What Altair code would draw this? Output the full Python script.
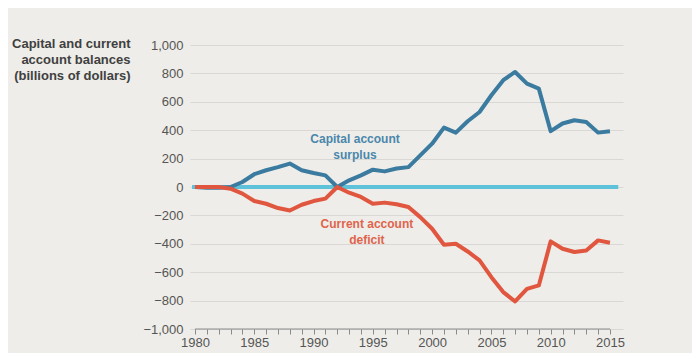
import altair as alt
import pandas as pd

years = list(range(1980, 2016))
capital = [0, -5, -5, 0, 35, 90, 118, 140, 165, 118, 99, 82, 0, 47, 82, 122,
           110, 130, 140, 223, 305, 418, 383, 463, 528, 646, 752, 810, 728, 693,
           393, 447, 470, 458, 383, 393]
current = [0, 0, 0, -12, -47, -99, -118, -148, -165, -125, -99, -82, 0, -40, -70, -118,
           -110, -122, -141, -212, -294, -407, -400, -454, -517, -635, -740, -806, -717, -693,
           -383, -435, -458, -447, -376, -393]

y_ticks = [-1000, -800, -600, -400, -200, 0, 200, 400, 600, 800, 1000]

BLUE = "#3b7b9f"
RED = "#e0563f"
CYAN = "#5ec3da"

df = pd.DataFrame({
    "year": years * 2,
    "value": capital + current,
    "series": ["Capital account surplus"] * len(years) + ["Current account deficit"] * len(years),
})

x_scale = alt.Scale(domain=[1979.58, 2016.1], nice=False, zero=False)
y_scale = alt.Scale(domain=[-1000, 1000], nice=False)

x_axis = alt.Axis(
    values=years, title=None, grid=False, domain=False,
    labelExpr="datum.value % 5 == 0 ? datum.value : ''",
    tickSize=5, tickColor="#8a8a8a", tickWidth=1, labelOverlap=False,
    labelFont="Liberation Sans", labelFontSize=13, labelColor="#555555",
    labelPadding=2, labelFlush=False,
)
y_axis = alt.Axis(
    values=y_ticks, format=",.0f", ticks=False, domain=False, labelOverlap=False,
    grid=True, gridColor="#d9d8d4", gridWidth=1, labelFlush=False,
    labelFont="Liberation Sans", labelFontSize=13, labelColor="#555555",
    labelPadding=7,
    title=["Capital and current", "account balances", "(billions of dollars)"],
    titleAngle=0, titleAlign="right", titleBaseline="top",
    titleX=-60, titleY=-8, titleFont="Liberation Sans", titleFontSize=13,
    titleFontWeight="bold", titleColor="#404040", titleLineHeight=16,
)


def X(field):
    return alt.X(field, type="quantitative", scale=x_scale, axis=x_axis)


def Y(field):
    return alt.Y(field, type="quantitative", scale=y_scale, axis=y_axis)


zero_df = pd.DataFrame({"x": [1979.75], "x2": [2015.7], "y": [0]})
zero_line = alt.Chart(zero_df).mark_rule(color=CYAN, strokeWidth=4).encode(
    x=X("x"), x2="x2:Q", y=Y("y")
)

axis_df = pd.DataFrame({"x": [1980], "x2": [2015], "y": [-1000]})
axis_line = alt.Chart(axis_df).mark_rule(color="#8a8a8a", strokeWidth=1).encode(
    x=X("x"), x2="x2:Q", y=Y("y")
)

lines = alt.Chart(df).mark_line(strokeWidth=4, strokeJoin="round").encode(
    x=X("year"),
    y=Y("value"),
    color=alt.Color("series:N", scale=alt.Scale(
        domain=["Capital account surplus", "Current account deficit"],
        range=[BLUE, RED]), legend=None),
)

ann_df = pd.DataFrame({
    "x": [1993.5, 1993.5, 1994.5, 1994.5],
    "y": [338, 225, -261, -373],
    "text": ["Capital account", "surplus", "Current account", "deficit"],
    "col": ["#4a87ab", "#4a87ab", "#e0644c", "#e0644c"],
})
ann = alt.Chart(ann_df).mark_text(
    font="Liberation Sans", fontSize=12, fontWeight="bold", align="center", baseline="middle"
).encode(
    x=X("x"),
    y=Y("y"),
    text="text:N",
    color=alt.Color("col:N", scale=None),
)

chart = alt.layer(zero_line, lines, axis_line, ann).properties(
    width=433, height=284,
    autosize=alt.AutoSizeParams(type="none"),
    padding={"left": 182, "top": 37, "right": 69, "bottom": 24},
    background="#eeede9",
).configure_view(stroke=None)

chart.save("out.html", embed_options={"renderer": "svg", "actions": False})
